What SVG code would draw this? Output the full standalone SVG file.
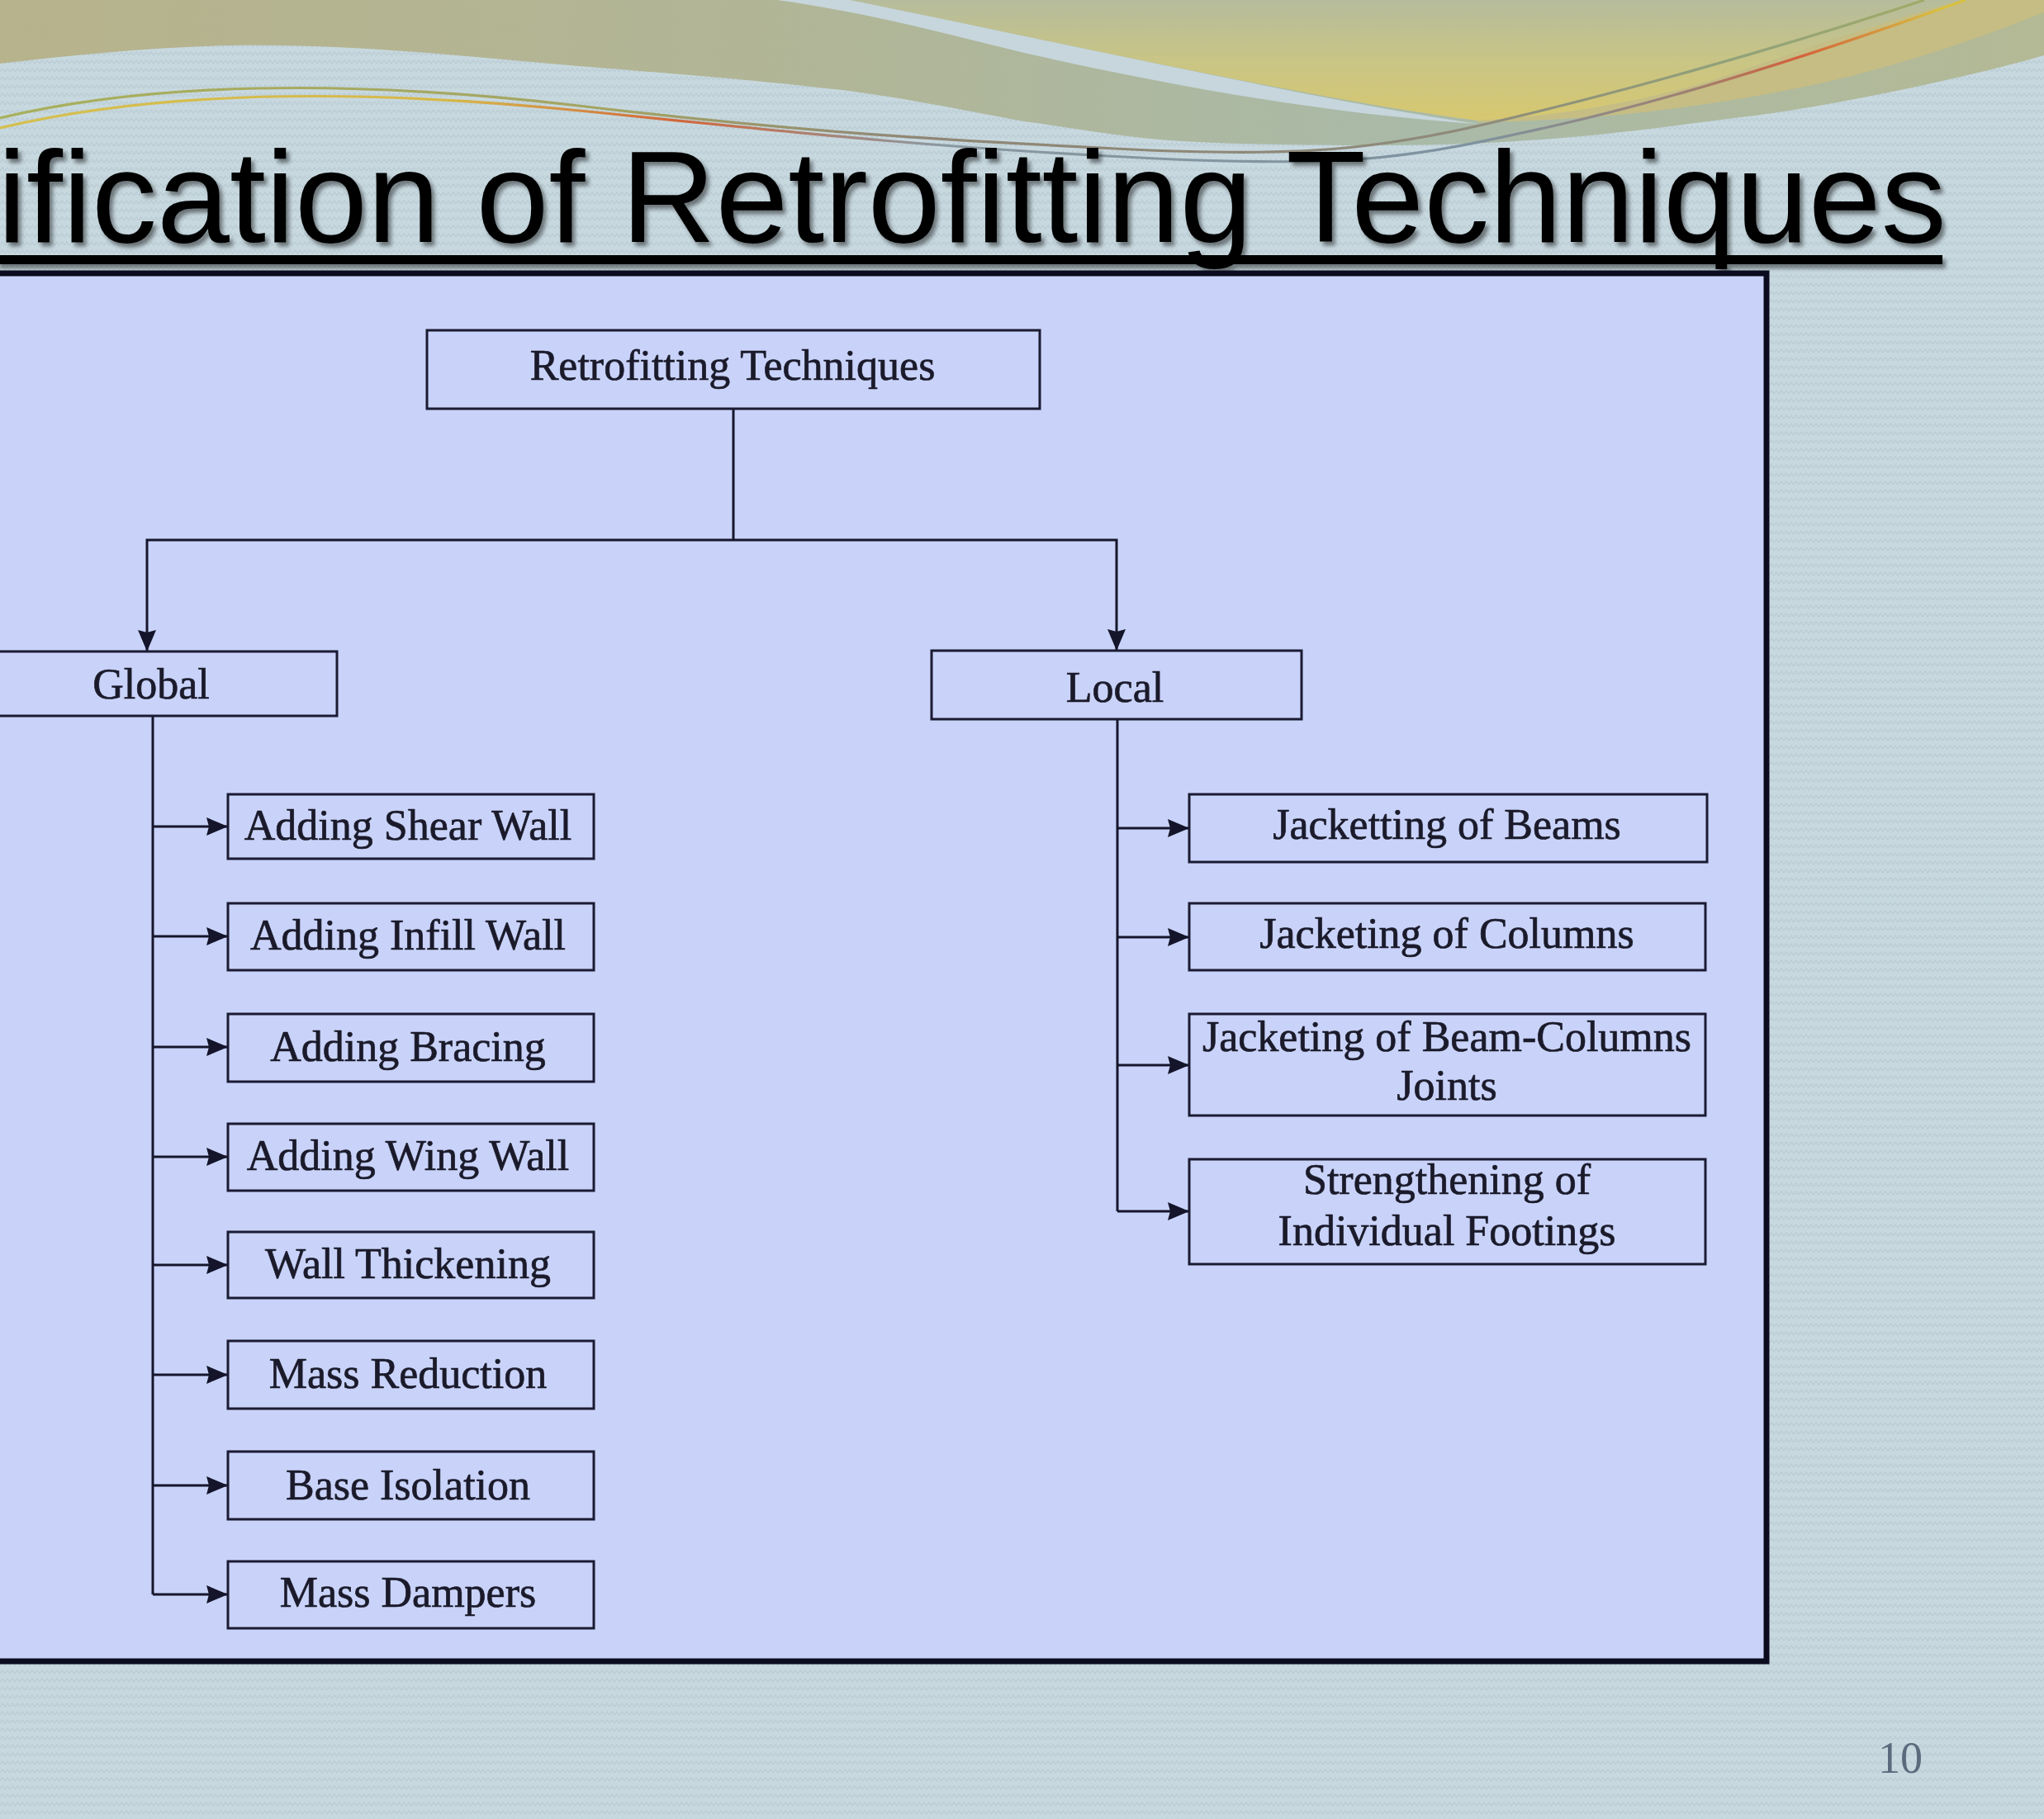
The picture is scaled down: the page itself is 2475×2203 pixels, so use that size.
<svg xmlns="http://www.w3.org/2000/svg" width="2475" height="2203" viewBox="0 0 2475 2203">
<style>
.box{fill:none;stroke:#1b1b33;stroke-width:3}
.lbl{font-family:"Liberation Serif","Times New Roman",serif;font-size:52px;fill:#1a1a2a;stroke:#1a1a2a;stroke-width:0.7;text-anchor:middle}
.conn{fill:none;stroke:#16162c;stroke-width:3}
.arr{marker-end:url(#ah)}
.title{font-family:"Liberation Sans",Arial,sans-serif;font-size:158px;fill:#000}
.deco{fill:none;stroke-width:3.2}
</style>
<defs>
<pattern id="zz" width="12" height="10" patternUnits="userSpaceOnUse">
<path d="M0,7 L3,3 L6,7 L9,3 L12,7" fill="none" stroke="#b4c5ce" stroke-width="1.2" opacity="0.7"/>
</pattern>
<linearGradient id="gOlive" x1="0" y1="0" x2="2475" y2="0" gradientUnits="userSpaceOnUse">
<stop offset="0" stop-color="#b7b38c"/>
<stop offset="0.45" stop-color="#b0b699"/>
<stop offset="0.7" stop-color="#a9baa8"/>
<stop offset="1" stop-color="#b4b995"/>
</linearGradient>
<linearGradient id="gYel" x1="0" y1="0" x2="0" y2="150" gradientUnits="userSpaceOnUse">
<stop offset="0" stop-color="#b6bc9c"/>
<stop offset="0.5" stop-color="#c9c585"/>
<stop offset="1" stop-color="#d8c86f"/>
</linearGradient>
<linearGradient id="gLineA" x1="0" y1="0" x2="2475" y2="0" gradientUnits="userSpaceOnUse">
<stop offset="0" stop-color="#a9b05c"/>
<stop offset="0.3" stop-color="#a3a462"/>
<stop offset="0.45" stop-color="#8f8676"/>
<stop offset="0.72" stop-color="#8e8a7a"/>
<stop offset="0.85" stop-color="#92a27a"/>
<stop offset="1" stop-color="#a9b05c"/>
</linearGradient>
<linearGradient id="gLineB" x1="0" y1="0" x2="2475" y2="0" gradientUnits="userSpaceOnUse">
<stop offset="0" stop-color="#d4c050"/>
<stop offset="0.22" stop-color="#d6b84a"/>
<stop offset="0.33" stop-color="#d2683c"/>
<stop offset="0.46" stop-color="#8a98a0"/>
<stop offset="0.72" stop-color="#7d93a0"/>
<stop offset="0.83" stop-color="#a08070"/>
<stop offset="0.88" stop-color="#d4603a"/>
<stop offset="0.95" stop-color="#d8c040"/>
<stop offset="1" stop-color="#d8c040"/>
</linearGradient>
<filter id="sh" x="-5%" y="-20%" width="110%" height="150%">
<feDropShadow dx="4" dy="5" stdDeviation="2.5" flood-color="#000" flood-opacity="0.45"/>
</filter>
<marker id="ah" markerUnits="userSpaceOnUse" markerWidth="30" markerHeight="24" refX="26" refY="11" orient="auto">
<path d="M0,0 L26,11 L0,22 L3,11 Z" fill="#14142a"/>
</marker>
</defs>

<!-- background -->
<rect x="0" y="0" width="2475" height="2203" fill="#c7d8df"/>
<rect x="0" y="0" width="2475" height="2203" fill="url(#zz)"/>

<!-- decorative swooshes -->
<path d="M0,0 L2475,0 L2475,67 C2380,95 2200,132 2107,142 C1990,157 1900,170 1750,175 C1600,178 1450,174 1393,168 C1320,160 1280,152 1240,147 C1150,130 1100,120 1028,110 C900,95 800,88 700,80 C560,68 420,52 277,55 C160,58 60,70 0,77 Z" fill="url(#gOlive)"/>
<path d="M941,0 C1050,15 1150,42 1240,64 C1400,100 1600,138 1789,150 C1600,122 1300,55 1030,0 Z" fill="#c6d6dc"/>
<path d="M1789,146 C1900,140 2000,120 2080,95 C2200,55 2300,20 2375,0 L2475,0 L2475,15 C2400,45 2300,80 2200,102 C2080,127 1950,146 1789,148 Z" fill="#c5bd84"/>
<path d="M1030,0 C1300,55 1600,122 1789,146 C1900,140 2000,120 2080,95 C2200,55 2300,20 2375,0 Z" fill="url(#gYel)"/>
<path class="deco" stroke="url(#gLineA)" d="M0,143 C180,100 420,95 700,128 S1150,170 1350,180 S1650,185 1800,150 S2150,60 2330,0"/>
<path class="deco" stroke="url(#gLineB)" d="M0,155 C180,112 420,105 712,135 S1150,180 1400,192 S1720,188 1870,155 S2200,65 2380,0"/>

<!-- title -->
<g id="title" filter="url(#sh)">
<rect x="-5" y="309" width="2357" height="11" fill="#000"/>
<text class="title" x="-3" y="293">ification of Retrofitting Techniques</text>
</g>

<!-- panel -->
<rect id="panel" x="-20" y="331" width="2159" height="1681" fill="#c9d3f9" stroke="#0b0c1f" stroke-width="7"/>

<!-- connectors -->
<g id="connectors">
<path class="conn" d="M888,495 V654"/>
<path class="conn arr" d="M888,654 H178 V789"/>
<path class="conn arr" d="M888,654 H1352 V788"/>
<path class="conn" d="M185,867 V1931"/>
<path class="conn arr" d="M185,1001 H276"/>
<path class="conn arr" d="M185,1134 H276"/>
<path class="conn arr" d="M185,1268 H276"/>
<path class="conn arr" d="M185,1401 H276"/>
<path class="conn arr" d="M185,1532 H276"/>
<path class="conn arr" d="M185,1665 H276"/>
<path class="conn arr" d="M185,1799 H276"/>
<path class="conn arr" d="M185,1931 H276"/>
<path class="conn" d="M1353,871 V1467"/>
<path class="conn arr" d="M1353,1003 H1440"/>
<path class="conn arr" d="M1353,1135 H1440"/>
<path class="conn arr" d="M1353,1290 H1440"/>
<path class="conn arr" d="M1353,1467 H1440"/>
</g>

<!-- nodes -->
<g id="n-root"><rect class="box" x="517" y="400" width="742" height="95"/><text class="lbl" x="887" y="460">Retrofitting Techniques</text></g>
<g id="n-global"><rect class="box" x="-45" y="789" width="453" height="78"/><text class="lbl" x="183" y="846">Global</text></g>
<g id="n-local"><rect class="box" x="1128" y="788" width="448" height="83"/><text class="lbl" x="1350" y="850">Local</text></g>

<g id="n-shear"><rect class="box" x="276" y="962" width="443" height="78"/><text class="lbl" x="494" y="1017">Adding Shear Wall</text></g>
<g id="n-infill"><rect class="box" x="276" y="1094" width="443" height="81"/><text class="lbl" x="494" y="1150">Adding Infill Wall</text></g>
<g id="n-bracing"><rect class="box" x="276" y="1228" width="443" height="82"/><text class="lbl" x="494" y="1285">Adding Bracing</text></g>
<g id="n-wing"><rect class="box" x="276" y="1361" width="443" height="81"/><text class="lbl" x="494" y="1417">Adding Wing Wall</text></g>
<g id="n-thick"><rect class="box" x="276" y="1492" width="443" height="80"/><text class="lbl" x="494" y="1548">Wall Thickening</text></g>
<g id="n-mass"><rect class="box" x="276" y="1624" width="443" height="82"/><text class="lbl" x="494" y="1681">Mass Reduction</text></g>
<g id="n-base"><rect class="box" x="276" y="1758" width="443" height="82"/><text class="lbl" x="494" y="1816">Base Isolation</text></g>
<g id="n-damp"><rect class="box" x="276" y="1891" width="443" height="81"/><text class="lbl" x="494" y="1946">Mass Dampers</text></g>

<g id="n-beams"><rect class="box" x="1440" y="962" width="627" height="82"/><text class="lbl" x="1752" y="1016">Jacketting of Beams</text></g>
<g id="n-cols"><rect class="box" x="1440" y="1094" width="625" height="81"/><text class="lbl" x="1752" y="1148">Jacketing of Columns</text></g>
<g id="n-joints"><rect class="box" x="1440" y="1228" width="625" height="123"/><text class="lbl" x="1752" y="1273">Jacketing of Beam-Columns</text><text class="lbl" x="1752" y="1332">Joints</text></g>
<g id="n-foot"><rect class="box" x="1440" y="1404" width="625" height="127"/><text class="lbl" x="1752" y="1446">Strengthening of</text><text class="lbl" x="1752" y="1508">Individual Footings</text></g>

<text x="2301" y="2147" font-family="Liberation Serif, serif" font-size="54" fill="#5b6a7c" text-anchor="middle">10</text>
</svg>
